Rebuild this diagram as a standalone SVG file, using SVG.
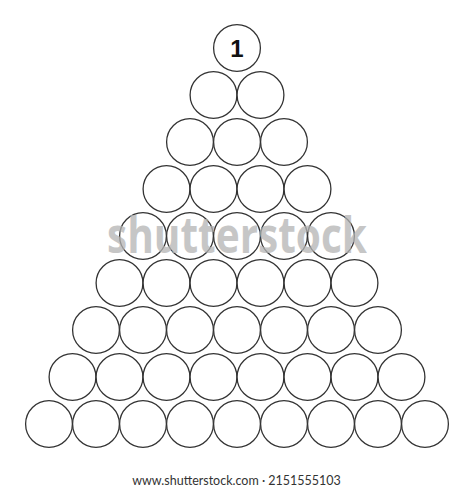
<svg xmlns="http://www.w3.org/2000/svg" width="474" height="489" viewBox="0 0 474 489">
<style>
.c{fill:#fff;stroke:#333;stroke-width:1.3}
.n{font-family:"Liberation Sans",Arial,sans-serif;font-weight:bold;font-size:24px;fill:#111;text-anchor:middle}
.wm{font-family:"Open Sans","Liberation Sans",sans-serif;font-weight:bold;font-size:50px;fill:#b4b4b4;opacity:0.75;text-anchor:middle}
.ft{font-family:"Lato","Liberation Sans",sans-serif;font-size:12.5px;fill:#333;text-anchor:middle}
</style>
<rect width="474" height="489" fill="#fff"/>
<g id="row1"><circle class="c" cx="237" cy="48" r="23.4"/></g>
<g id="row2"><circle class="c" cx="213.5" cy="95" r="23.4"/><circle class="c" cx="260.5" cy="95" r="23.4"/></g>
<g id="row3"><circle class="c" cx="190" cy="142" r="23.4"/><circle class="c" cx="237" cy="142" r="23.4"/><circle class="c" cx="284" cy="142" r="23.4"/></g>
<g id="row4"><circle class="c" cx="166.5" cy="189" r="23.4"/><circle class="c" cx="213.5" cy="189" r="23.4"/><circle class="c" cx="260.5" cy="189" r="23.4"/><circle class="c" cx="307.5" cy="189" r="23.4"/></g>
<g id="row5"><circle class="c" cx="143" cy="236" r="23.4"/><circle class="c" cx="190" cy="236" r="23.4"/><circle class="c" cx="237" cy="236" r="23.4"/><circle class="c" cx="284" cy="236" r="23.4"/><circle class="c" cx="331" cy="236" r="23.4"/></g>
<g id="row6"><circle class="c" cx="119.5" cy="283" r="23.4"/><circle class="c" cx="166.5" cy="283" r="23.4"/><circle class="c" cx="213.5" cy="283" r="23.4"/><circle class="c" cx="260.5" cy="283" r="23.4"/><circle class="c" cx="307.5" cy="283" r="23.4"/><circle class="c" cx="354.5" cy="283" r="23.4"/></g>
<g id="row7"><circle class="c" cx="96" cy="330" r="23.4"/><circle class="c" cx="143" cy="330" r="23.4"/><circle class="c" cx="190" cy="330" r="23.4"/><circle class="c" cx="237" cy="330" r="23.4"/><circle class="c" cx="284" cy="330" r="23.4"/><circle class="c" cx="331" cy="330" r="23.4"/><circle class="c" cx="378" cy="330" r="23.4"/></g>
<g id="row8"><circle class="c" cx="72.5" cy="377" r="23.4"/><circle class="c" cx="119.5" cy="377" r="23.4"/><circle class="c" cx="166.5" cy="377" r="23.4"/><circle class="c" cx="213.5" cy="377" r="23.4"/><circle class="c" cx="260.5" cy="377" r="23.4"/><circle class="c" cx="307.5" cy="377" r="23.4"/><circle class="c" cx="354.5" cy="377" r="23.4"/><circle class="c" cx="401.5" cy="377" r="23.4"/></g>
<g id="row9"><circle class="c" cx="49" cy="424" r="23.4"/><circle class="c" cx="96" cy="424" r="23.4"/><circle class="c" cx="143" cy="424" r="23.4"/><circle class="c" cx="190" cy="424" r="23.4"/><circle class="c" cx="237" cy="424" r="23.4"/><circle class="c" cx="284" cy="424" r="23.4"/><circle class="c" cx="331" cy="424" r="23.4"/><circle class="c" cx="378" cy="424" r="23.4"/><circle class="c" cx="425" cy="424" r="23.4"/></g>
<g id="label"><text class="n" x="237" y="56.5">1</text></g>
<g id="connectors"/>
<text class="wm" x="237" y="253" textLength="260" lengthAdjust="spacingAndGlyphs">shutterstock</text>
<text class="ft" x="236.5" y="485">www.shutterstock.com · 2151555103</text>
</svg>
